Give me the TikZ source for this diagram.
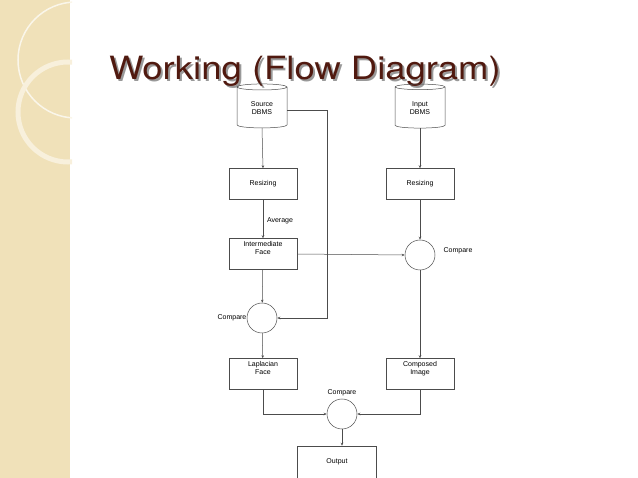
\documentclass[tikz,border=0pt]{standalone}
\usepackage{fontspec}
\setmainfont{Liberation Sans}
\newfontfamily\titlefont{TeX Gyre Heros}
\usetikzlibrary{shapes.geometric,arrows.meta}
\definecolor{beige}{RGB}{240,225,185}
\definecolor{tbrown}{RGB}{80,25,15}
\begin{document}
\begin{tikzpicture}[x=1pt,y=-1pt,
 box/.style={draw=black!70,line width=0.5pt,minimum width=68pt,minimum height=31pt,align=center,font=\fontsize{7}{8}\selectfont,inner sep=1pt},
 db/.style={draw=black!70,line width=0.5pt,cylinder,shape border rotate=90,aspect=0.25,minimum width=50pt,minimum height=44pt,align=center,font=\fontsize{7}{8}\selectfont,inner sep=1pt},
 cmp/.style={draw=black!70,line width=0.5pt,circle,minimum size=30pt,inner sep=0pt},
 lbl/.style={font=\fontsize{7}{8}\selectfont},
 ln/.style={draw=black!70,line width=0.5pt,-{Stealth[length=3pt,width=2.5pt]}}]
\useasboundingbox (0,0) rectangle (638,478);
\fill[beige] (0,0) rectangle (70,478);
\begin{scope}
\clip (0,0) rectangle (72,478);
\draw[white!70!beige,line width=1.5pt] (76,60) circle (58);
\draw[white!50!beige,line width=5pt] (68,112) circle (50);
\end{scope}
\node[font=\titlefont\fontsize{32}{34}\selectfont,text=black!40,anchor=base west,xscale=1.14] at (107,82) {Working (Flow Diagram)};
\node[font=\titlefont\fontsize{32}{34}\selectfont,text=tbrown,anchor=base west,xscale=1.14] (title) at (105,80) {Working (Flow Diagram)};
\node[db] (src) at (262,108) {Source\\DBMS};
\node[db] (inp) at (420,108) {Input\\DBMS};
\node[box] (rs1) at (263,184) {Resizing};
\node[box] (rs2) at (420,184) {Resizing};
\node[box] (imf) at (263,254) {Intermediate\\Face\\[4pt]};
\node[cmp] (c2) at (420,255) {};
\node[cmp] (c1) at (262,318) {};
\node[box] (lap) at (263,374) {Laplacian\\Face\\[4pt]};
\node[box] (com) at (420,374) {Composed\\Image\\[4pt]};
\node[cmp] (c3) at (342,414) {};
\node[box,minimum width=79pt,minimum height=32pt] (out) at (337,462) {Output};
\node[lbl] (avg) at (280,221) {Average};
\node[lbl] (cp2) at (458,251) {Compare};
\node[lbl] (cp1) at (232,318) {Compare};
\node[lbl] (cp3) at (342,393) {Compare};
\coordinate (k1) at (327,110);
\coordinate (k2) at (327,318);
\draw[ln] (src.south) -- (rs1.north);
\draw[ln] (inp.south) -- (rs2.north);
\draw[ln] (rs1) -- (imf);
\draw[ln] (rs2) -- (c2);
\draw[ln] (imf.east) -- (c2.west);
\draw[ln] (imf) -- (c1);
\draw[ln] (c1) -- (lap);
\draw[ln] (c2) -- (com);
\draw[ln] (src.east|-k1) -- (k1) -- (k2) -- (c1.east);
\draw[ln] (lap.south) |- (c3.west);
\draw[ln] (com.south) |- (c3.east);
\draw[ln] (c3.south) -- (c3.south|-out.north);
\end{tikzpicture}
\end{document}
